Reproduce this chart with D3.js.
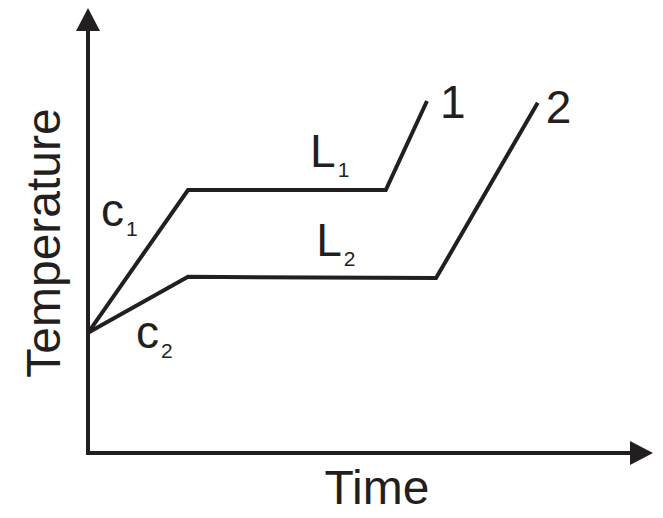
<!DOCTYPE html>
<html>
<head>
<meta charset="utf-8">
<script src="https://cdn.jsdelivr.net/npm/d3@7"></script>
<style>
  body { margin: 0; background: #fff; }
  text { font-family: "Liberation Sans", Arial, sans-serif; fill: #231f20; }
</style>
</head>
<body>
<div id="chart"></div>
<script>
// heating curves, arbitrary units (time 0..100, temperature 0..100)
const curveNames = ["1", "2"];
const times1 = [0, 17.7, 52.7, 60.0];
const temps1 = [27.0, 59.1, 59.1, 79.1];
const times2 = [0, 17.7, 61.6, 79.6];
const temps2 = [27.0, 39.6, 39.3, 78.7];

// segment labels: heat capacities and latent heats
const segLabels = ["c", "c", "L", "L"];
const segSubs = ["1", "2", "1", "2"];
const segTimes = [2.3, 8.5, 39.3, 40.4];
const segTemps = [51.0, 23.6, 64.3, 44.3];

// end labels of the curves
const endTimes = [62.3, 81.0];
const endTemps = [75.3, 74.2];

const axisTitles = ["Time", "Temperature"];

const width = 663,
  height = 518;
const ink = "#231f20";

const svg = d3.select("#chart")
  .append("svg")
  .attr("width", width)
  .attr("height", height);

const x = d3.scaleLinear().domain([0, 100]).range([88, 653]);
const y = d3.scaleLinear().domain([0, 100]).range([453, 8]);

// axes with arrow heads
const arrowLen = 23, arrowHalf = 12;
svg.append("path")
  .attr("d", d3.line()([
    [x(0), y(100) + arrowLen],
    [x(0), y(0)],
    [x(100) - arrowLen, y(0)]
  ]))
  .attr("fill", "none")
  .attr("stroke", ink)
  .attr("stroke-width", 4)
  .attr("stroke-linejoin", "miter");

svg.append("path")
  .attr("d", d3.line()([
    [x(0), y(100)],
    [x(0) - arrowHalf, y(100) + arrowLen],
    [x(0) + arrowHalf, y(100) + arrowLen]
  ]) + "Z")
  .attr("fill", ink);

svg.append("path")
  .attr("d", d3.line()([
    [x(100), y(0)],
    [x(100) - arrowLen, y(0) - arrowHalf],
    [x(100) - arrowLen, y(0) + arrowHalf]
  ]) + "Z")
  .attr("fill", ink);

// curves
const curves = [
  d3.zip(times1, temps1),
  d3.zip(times2, temps2)
];
const line = d3.line()
  .x(d => x(d[0]))
  .y(d => y(d[1]));

svg.selectAll(".curve")
  .data(curves)
  .join("path")
  .attr("class", "curve")
  .attr("d", line)
  .attr("fill", "none")
  .attr("stroke", ink)
  .attr("stroke-width", 4)
  .attr("stroke-linejoin", "miter");

// curve numbers
svg.selectAll(".end-label")
  .data(curveNames)
  .join("text")
  .attr("class", "end-label")
  .attr("x", (d, i) => x(endTimes[i]))
  .attr("y", (d, i) => y(endTemps[i]))
  .attr("font-size", "46px")
  .text(d => d);

// c1, c2, L1, L2 with subscripts
const seg = svg.selectAll(".seg-label")
  .data(segLabels)
  .join("text")
  .attr("class", "seg-label")
  .attr("x", (d, i) => x(segTimes[i]))
  .attr("y", (d, i) => y(segTemps[i]))
  .attr("font-size", "46px")
  .text(d => d);

seg.append("tspan")
  .attr("dx", 2)
  .attr("dy", 10)
  .attr("font-size", "21px")
  .text((d, i) => segSubs[i]);

// axis titles
svg.append("text")
  .attr("x", 377)
  .attr("y", 504)
  .attr("text-anchor", "middle")
  .attr("font-size", "48px")
  .text(axisTitles[0]);

svg.append("text")
  .attr("transform", "translate(60,243) rotate(-90)")
  .attr("text-anchor", "middle")
  .attr("font-size", "48px")
  .text(axisTitles[1]);
</script>
</body>
</html>
